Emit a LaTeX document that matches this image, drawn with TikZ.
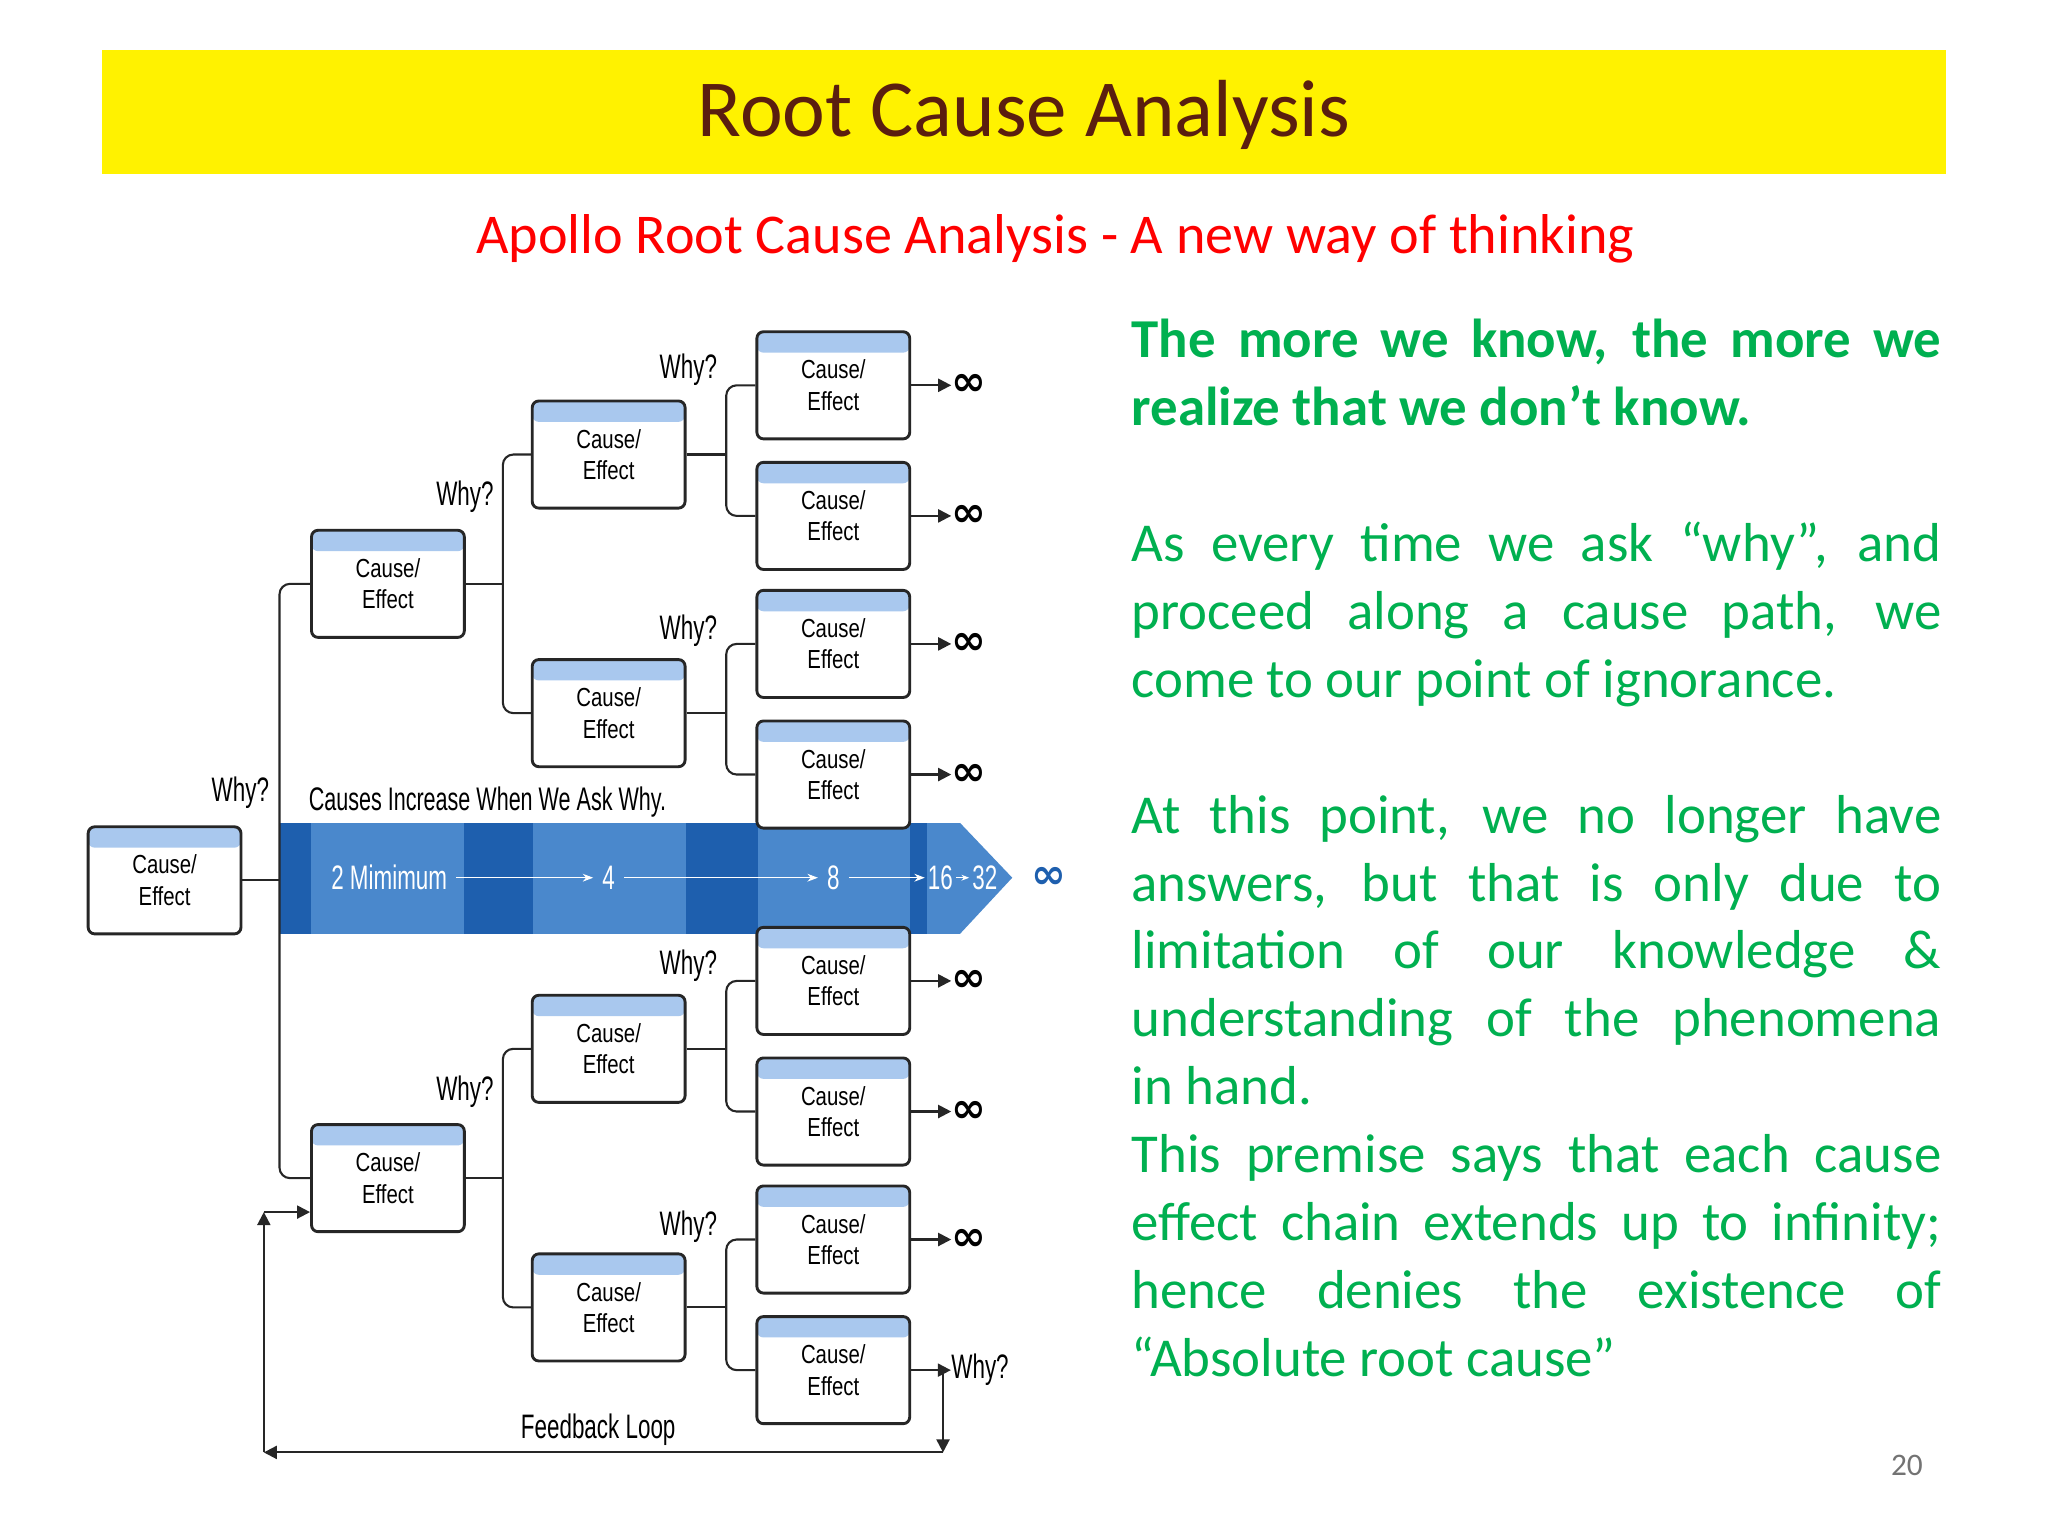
\documentclass[tikz,border=0pt]{standalone}
\usepackage{fontspec}
\setmainfont{Carlito}
\newfontfamily\narrowfont[FakeStretch=0.78]{Liberation Sans}
\newfontfamily\vnarrowfont[FakeStretch=0.66]{Liberation Sans}
\newfontfamily\djv{DejaVu Sans}
\usetikzlibrary{arrows.meta}
\hyphenpenalty=10000
\exhyphenpenalty=10000
\definecolor{ttl}{HTML}{5A1E0F}
\definecolor{grn}{HTML}{00B050}
\definecolor{lb}{HTML}{A9C8EE}
\definecolor{bdark}{HTML}{1E5FAE}
\definecolor{bmid}{HTML}{4A88CC}
\tikzset{
 ce/.style={draw=black!85,line width=1.1pt,rounded corners=2.5pt,fill=white,
   minimum width=58.5pt,minimum height=41pt,inner sep=0pt,align=center,
   font=\narrowfont\fontsize{10}{12}\selectfont,
   path picture={\fill[lb] ([yshift=1pt]path picture bounding box.north west) rectangle ([yshift=-8pt]path picture bounding box.north east);}},
 conn/.style={line width=0.8pt,black!85},
 why/.style={font=\vnarrowfont\fontsize{13}{15}\selectfont,inner sep=0pt},
 inf/.style={font=\djv\bfseries\fontsize{16}{16}\selectfont,inner sep=0pt},
 arr/.style={conn,-{Triangle[length=5pt,width=5pt]}},
}
\begin{document}
\begin{tikzpicture}[x=0.5pt,y=-0.5pt]
\useasboundingbox (0,0) rectangle (1568,1176);
\fill[white] (0,0) rectangle (1568,1176);
\fill[yellow] (78,38) rectangle (1490,133);
\node[font=\fontsize{31}{36}\selectfont,text=ttl] (title) at (784,88) {Root Cause Analysis};
\node[font=\fontsize{21.5}{26}\selectfont,text=red] (sub) at (808,183) {Apollo Root Cause Analysis - A new way of thinking};
\node[anchor=north west,inner sep=0pt,text width=310pt,align=justify,text=grn,
 font=\fontsize{21}{26}\selectfont] (txt) at (866,244)
 {\lefthyphenmin=64 \hyphenpenalty=10000
 \textbf{The more we know, the more we realize that we don’t know.}\par\vspace{26pt}
 As every time we ask “why”, and proceed along a cause path, we come to our point of ignorance.\par\vspace{26pt}
 At this point, we no longer have answers, but that is only due to limitation of our knowledge \& understanding of the phenomena in hand.\par
 This premise says that each cause effect chain extends up to infinity; hence denies the existence of “Absolute root cause”};
\node[text=black!55,font=\fontsize{12}{14}\selectfont] (pg) at (1460,1122) {20};
% band
\fill[bdark] (214,630) rectangle (735,715);
\fill[bmid] (238,630) rectangle (355,715);
\fill[bmid] (408,630) rectangle (525,715);
\fill[bmid] (580,630) rectangle (697,715);
\fill[bmid] (710,630) rectangle (735,715);
\fill[bmid] (735,630) -- (775,672) -- (735,715) -- cycle;
\begin{scope}[white,font=\vnarrowfont\fontsize{13}{15}\selectfont]
\node (t2) at (298,672) {2 Mimimum};
\node (t4) at (466,672) {4};
\node (t8) at (638,672) {8};
\node[inner sep=1pt] (t16) at (720,672) {16};
\node[inner sep=1pt] (t32) at (754,672) {32};
\draw[line width=0.4pt,-{Stealth[length=4pt]}] (t2.east) -- (t4.west);
\draw[line width=0.4pt,-{Stealth[length=4pt]}] (t4.east) -- (t8.west);
\draw[line width=0.4pt,-{Stealth[length=4pt]}] (t8.east) -- (t16.west);
\draw[line width=0.4pt,-{Stealth[length=3pt]}] (t16.east) -- (t32.west);
\end{scope}
\node[inf,text=bdark] (tinf) at (803,672) {∞};
\node[font=\vnarrowfont\fontsize{12.5}{15}\selectfont,anchor=west,inner sep=0pt] (cap) at (236,614) {Causes Increase When We Ask Why.};
% boxes
\node[ce] (r) at (126,674) {Cause/\\Effect};
\node[ce] (a1) at (297,447) {Cause/\\Effect};
\node[ce] (a2) at (297,902) {Cause/\\Effect};
\foreach \n/\y in {1/348,2/546,3/803,4/1001} \node[ce] (b\n) at (466,\y) {Cause/\\Effect};
\foreach \n/\y in {1/295,2/395,3/493,4/593,5/751,6/851,7/949,8/1049} \node[ce] (c\n) at (638,\y) {Cause/\\Effect};
% connectors
\draw[conn] (r.east) -- (214,674);
\draw[conn,rounded corners=4pt] (a1.west) -- (214,447) -- (214,902) -- (a2.west);
\foreach \a/\p/\q in {a1/b1/b2,a2/b3/b4}{
 \draw[conn] (\a.east) -- (385,0 |- \a.east);
 \draw[conn,rounded corners=4pt] (\p.west) -- (385,0 |- \p.west) -- (385,0 |- \q.west) -- (\q.west);}
\foreach \b/\p/\q in {b1/c1/c2,b2/c3/c4,b3/c5/c6,b4/c7/c8}{
 \draw[conn] (\b.east) -- (556,0 |- \b.east);
 \draw[conn,rounded corners=4pt] (\p.west) -- (556,0 |- \p.west) -- (556,0 |- \q.west) -- (\q.west);}
\foreach \n/\y in {1/295,2/395,3/493,4/593,5/751,6/851,7/949}{
 \node[inf] (i\n) at (742,\y) {∞};
 \draw[arr] (c\n.east) -- (i\n.west);}
% why labels
\node[why] (w0) at (184,607) {Why?};
\node[why] (w1) at (356,380) {Why?};
\node[why] (w2) at (356,836) {Why?};
\node[why] (w3) at (527,283) {Why?};
\node[why] (w4) at (527,483) {Why?};
\node[why] (w5) at (527,739) {Why?};
\node[why] (w6) at (527,939) {Why?};
\node[why,anchor=west] (w7) at (728,1049) {Why?};
% feedback
\coordinate (f1) at (722,1049);
\coordinate (f2) at (722,1112);
\coordinate (f3) at (202,1112);
\coordinate (f4) at (202,928);
\draw[arr] (c8.east) -- (w7.west);
\draw[arr] (f1) -- (f2);
\draw[arr] (f2) -- (f3);
\draw[arr] (f3) -- (f4);
\draw[arr] (f4) -- (a2.west |- f4);
\node[font=\vnarrowfont\fontsize{13}{15}\selectfont] (fb) at (458,1095) {Feedback Loop};
\end{tikzpicture}
\end{document}
